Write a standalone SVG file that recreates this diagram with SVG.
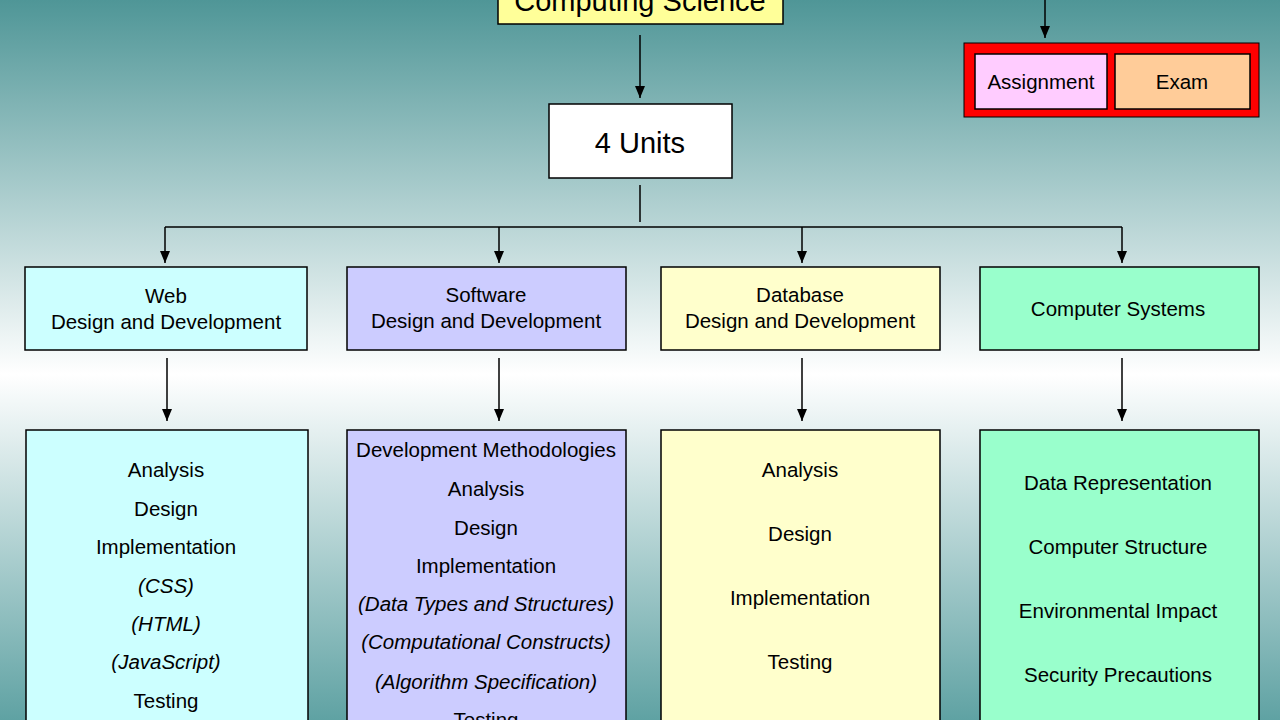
<svg xmlns="http://www.w3.org/2000/svg" width="1280" height="720" viewBox="0 0 1280 720">
<defs>
<linearGradient id="bg" x1="0" y1="0" x2="0" y2="1">
<stop offset="0" stop-color="#4f9697"/>
<stop offset="0.52" stop-color="#ffffff"/>
<stop offset="1" stop-color="#5fa2a3"/>
</linearGradient>
<marker id="ah" markerWidth="12" markerHeight="10" refX="12" refY="5" orient="auto" markerUnits="userSpaceOnUse" viewBox="0 0 12 10">
<path d="M0,0 L12,5 L0,10 z" fill="#000"/>
</marker>
</defs>
<style>
.b{stroke:#000;stroke-width:1.5}
text{font-family:"Liberation Sans",Arial,sans-serif;font-size:20.5px;fill:#000;text-anchor:middle}
.i{font-style:italic}
.c line{stroke:#000;stroke-width:1.5;fill:none}
</style>
<rect width="1280" height="720" fill="url(#bg)"/>
<g id="title"><rect class="b" x="498" y="-20" width="285" height="44" fill="#ffff99"/><text x="640" y="11" style="font-size:29px">Computing Science</text></g>
<g id="assess"><rect x="964" y="43" width="295" height="74" fill="#ff0000" stroke="#000"/>
<g id="assignment"><rect class="b" x="975" y="54" width="132" height="55" fill="#ffccff"/><text x="1041" y="89">Assignment</text></g>
<g id="exam"><rect class="b" x="1115" y="54" width="135" height="55" fill="#ffcc99"/><text x="1182" y="89">Exam</text></g></g>
<g id="units"><rect class="b" x="549" y="104" width="183" height="74" fill="#fff"/><text x="640" y="153" style="font-size:29px">4 Units</text></g>
<g class="c" id="connectors">
<line x1="1045" y1="0" x2="1045" y2="38" marker-end="url(#ah)"/>
<line x1="640" y1="35" x2="640" y2="98" marker-end="url(#ah)"/>
<line x1="640" y1="185" x2="640" y2="222"/>
<line x1="165" y1="227" x2="1122" y2="227"/>
<line x1="165" y1="227" x2="165" y2="263" marker-end="url(#ah)"/>
<line x1="499" y1="227" x2="499" y2="263" marker-end="url(#ah)"/>
<line x1="802" y1="227" x2="802" y2="263" marker-end="url(#ah)"/>
<line x1="1122" y1="227" x2="1122" y2="263" marker-end="url(#ah)"/>
<line x1="167" y1="358" x2="167" y2="421" marker-end="url(#ah)"/>
<line x1="499" y1="358" x2="499" y2="421" marker-end="url(#ah)"/>
<line x1="802" y1="358" x2="802" y2="421" marker-end="url(#ah)"/>
<line x1="1122" y1="358" x2="1122" y2="421" marker-end="url(#ah)"/>
</g>
<g id="web"><rect class="b" x="25" y="267" width="282" height="83" fill="#ccffff"/><text x="166" y="303">Web</text><text x="166" y="329">Design and Development</text></g>
<g id="software"><rect class="b" x="347" y="267" width="279" height="83" fill="#ccccff"/><text x="486" y="302">Software</text><text x="486" y="328">Design and Development</text></g>
<g id="database"><rect class="b" x="661" y="267" width="279" height="83" fill="#ffffcc"/><text x="800" y="302">Database</text><text x="800" y="328">Design and Development</text></g>
<g id="compsys"><rect class="b" x="980" y="267" width="279" height="83" fill="#99ffcc"/><text x="1118" y="316">Computer Systems</text></g>
<g id="web-topics"><rect class="b" x="26" y="430" width="282" height="300" fill="#ccffff"/>
<text x="166" y="477">Analysis</text><text x="166" y="516">Design</text><text x="166" y="554">Implementation</text>
<text class="i" x="166" y="593">(CSS)</text><text class="i" x="166" y="631">(HTML)</text><text class="i" x="166" y="669">(JavaScript)</text><text x="166" y="708">Testing</text></g>
<g id="software-topics"><rect class="b" x="347" y="430" width="279" height="300" fill="#ccccff"/>
<text x="486" y="457">Development Methodologies</text><text x="486" y="496">Analysis</text><text x="486" y="535">Design</text><text x="486" y="573">Implementation</text>
<text class="i" x="486" y="611">(Data Types and Structures)</text><text class="i" x="486" y="649">(Computational Constructs)</text><text class="i" x="486" y="689">(Algorithm Specification)</text><text x="486" y="727">Testing</text></g>
<g id="database-topics"><rect class="b" x="661" y="430" width="279" height="300" fill="#ffffcc"/>
<text x="800" y="477">Analysis</text><text x="800" y="541">Design</text><text x="800" y="605">Implementation</text><text x="800" y="669">Testing</text></g>
<g id="compsys-topics"><rect class="b" x="980" y="430" width="279" height="300" fill="#99ffcc"/>
<text x="1118" y="490">Data Representation</text><text x="1118" y="554">Computer Structure</text><text x="1118" y="618">Environmental Impact</text><text x="1118" y="682">Security Precautions</text></g>
</svg>
